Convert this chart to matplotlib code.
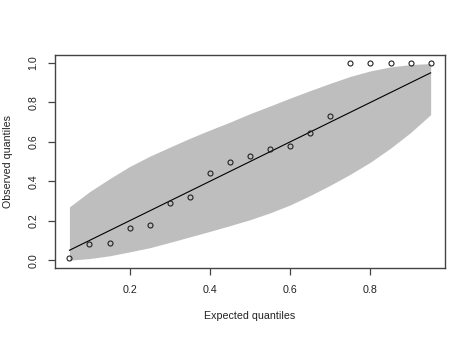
import numpy as np
import matplotlib
matplotlib.use("Agg")
import matplotlib.pyplot as plt

plt.rcParams['font.family'] = ['Liberation Sans', 'DejaVu Sans']

# expected quantiles and observed values
expected = [0.05, 0.10, 0.15, 0.20, 0.25, 0.30, 0.35, 0.40, 0.45, 0.50,
            0.55, 0.60, 0.65, 0.70, 0.75, 0.80, 0.85, 0.90, 0.95]
observed = [0.01, 0.08, 0.087, 0.165, 0.18, 0.29, 0.32, 0.44, 0.50, 0.53,
            0.562, 0.58, 0.647, 0.733, 1.0, 1.0, 1.0, 1.0, 1.0]

# confidence envelope
band_lower = [0.0, 0.008, 0.022, 0.042, 0.063, 0.09, 0.118, 0.146, 0.175, 0.205,
              0.24, 0.28, 0.328, 0.38, 0.436, 0.497, 0.568, 0.647, 0.738]
band_upper = [0.27, 0.347, 0.413, 0.475, 0.527, 0.573, 0.618, 0.66, 0.70, 0.743,
              0.782, 0.822, 0.86, 0.897, 0.932, 0.96, 0.98, 0.992, 0.997]

x_ticks = [0.2, 0.4, 0.6, 0.8]
y_ticks = [0.0, 0.2, 0.4, 0.6, 0.8, 1.0]

fig = plt.figure(figsize=(4.74, 3.38), dpi=100)
ax = fig.add_axes([0.116, 0.207, 0.823, 0.630])

ax.fill_between(expected, band_lower, band_upper, color='#bebebe', linewidth=0)
ax.plot([expected[0], expected[-1]], [expected[0], expected[-1]],
        color='black', linewidth=0.8)
ax.plot(expected, observed, linestyle='none', marker='o', markersize=3.6,
        markerfacecolor='none', markeredgecolor='#222222', markeredgewidth=0.8)

ax.set_xlim(0.014, 0.986)
ax.set_ylim(-0.04, 1.04)
ax.set_xticks(x_ticks)
ax.set_xticklabels([f'{v:.1f}' for v in x_ticks])
ax.set_yticks(y_ticks)
ax.set_yticklabels([f'{v:.1f}' for v in y_ticks], rotation=90, va='center')

for s in ax.spines.values():
    s.set_color('#444444')
    s.set_linewidth(1.0)
ax.tick_params(direction='out', length=5, width=0.9, color='#444444',
               labelsize=7.7, labelcolor='#222222', pad=7)

ax.set_xlabel('Expected quantiles', fontsize=7.7, color='#222222', labelpad=12)
ax.set_ylabel('Observed quantiles', fontsize=7.7, color='#222222', labelpad=11)

fig.savefig('out.png', dpi=100)
